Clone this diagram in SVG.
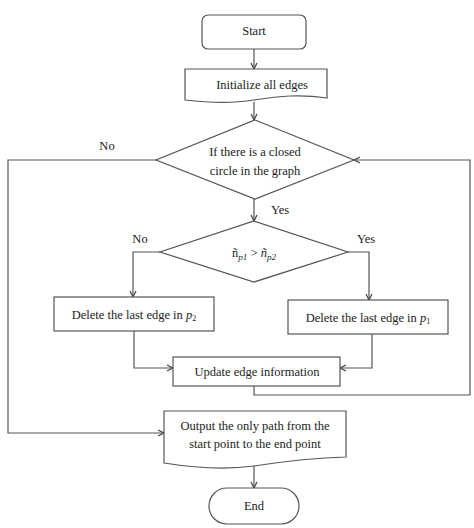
<svg xmlns="http://www.w3.org/2000/svg" width="474" height="528" viewBox="0 0 474 528">
<style>
.s{fill:#fff;stroke:#555;stroke-width:1.2}
.c{fill:none;stroke:#555;stroke-width:1.2}
.t{font-family:"Liberation Serif",serif;font-size:12.5px;fill:#222;text-anchor:middle}
.l{font-family:"Liberation Serif",serif;font-size:12.5px;fill:#222;text-anchor:middle}
</style>
<defs>
<marker id="a" markerWidth="8" markerHeight="8" refX="7" refY="4" orient="auto" markerUnits="userSpaceOnUse">
<path d="M1,1 L7,4 L1,7" fill="none" stroke="#444" stroke-width="1.2"/>
</marker>
</defs>
<rect width="474" height="528" fill="#fff"/>
<g id="connectors">
<path class="c" d="M254,49 V69" marker-end="url(#a)"/>
<path class="c" d="M254,102 V120" marker-end="url(#a)"/>
<path class="c" d="M254,199 V221" marker-end="url(#a)"/>
<path class="c" d="M160,252 H133 V297" marker-end="url(#a)"/>
<path class="c" d="M348,252 H369 V300" marker-end="url(#a)"/>
<path class="c" d="M134,331 V368 H173" marker-end="url(#a)"/>
<path class="c" d="M372,334 V368 H340" marker-end="url(#a)"/>
<path class="c" d="M254,386 V395 H470 V160 H354" marker-end="url(#a)"/>
<path class="c" d="M156,160 H8 V433 H164" marker-end="url(#a)"/>
<path class="c" d="M254,466 V488" marker-end="url(#a)"/>
<text class="l" x="107" y="150">No</text>
<text class="l" x="280" y="214">Yes</text>
<text class="l" x="140" y="243">No</text>
<text class="l" x="366" y="243">Yes</text>
</g>
<g id="start">
<rect class="s" x="202" y="15" width="104" height="34" rx="6"/>
<text class="t" x="254" y="35">Start</text>
</g>
<g id="init">
<path class="s" d="M185,69 H327 V98 C300,94 280,96 254,100 C230,104 210,103 185,100 Z"/>
<text class="t" x="262" y="89">Initialize all edges</text>
</g>
<g id="cond1">
<path class="s" d="M255,120 L354,160 L255,199 L156,160 Z"/>
<text class="t" x="255" y="156">If there is a closed</text>
<text class="t" x="255" y="175">circle in the graph</text>
</g>
<g id="cond2">
<path class="s" d="M254,221 L348,252 L254,282 L160,252 Z"/>
<text class="t" x="254" y="257">ñ<tspan font-size="9" font-style="italic" dy="3">p1</tspan><tspan dy="-3"> &gt; </tspan><tspan font-style="italic">ñ</tspan><tspan font-size="9" font-style="italic" dy="3">p2</tspan></text>
</g>
<g id="del2">
<rect class="s" x="54" y="297" width="160" height="34"/>
<text class="t" x="134" y="319">Delete the last edge in <tspan font-style="italic">p</tspan><tspan font-size="8" dy="2">2</tspan></text>
</g>
<g id="del1">
<rect class="s" x="288" y="300" width="160" height="34"/>
<text class="t" x="368" y="322">Delete the last edge in <tspan font-style="italic">p</tspan><tspan font-size="8" dy="2">1</tspan></text>
</g>
<g id="update">
<rect class="s" x="173" y="357" width="167" height="29"/>
<text class="t" x="257" y="376">Update edge information</text>
</g>
<g id="output">
<path class="s" d="M164,411 H346 V457 C310,458 280,462 254,466 C225,470 195,468 164,463 Z"/>
<text class="t" x="255" y="430">Output the only path from the</text>
<text class="t" x="255" y="448">start point to the end point</text>
</g>
<g id="end">
<rect class="s" x="209" y="488" width="90" height="36" rx="18"/>
<text class="t" x="254" y="510">End</text>
</g>
</svg>
